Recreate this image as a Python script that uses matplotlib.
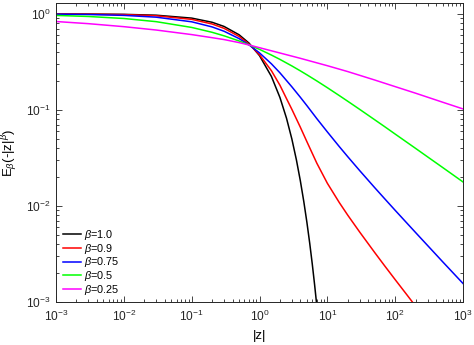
import numpy as np
import matplotlib
matplotlib.use('Agg')
import matplotlib.pyplot as plt
from matplotlib.ticker import FixedLocator, NullFormatter

plt.rcParams['font.family'] = ['Liberation Sans', 'DejaVu Sans']
plt.rcParams['mathtext.fontset'] = 'custom'
plt.rcParams['mathtext.rm'] = 'Liberation Sans'
plt.rcParams['mathtext.it'] = 'Liberation Sans:italic'
plt.rcParams['mathtext.bf'] = 'Liberation Sans:bold'

# values, E_beta(-|z|^beta) vs |z|
z_b10 = [0.001, 0.003, 0.01, 0.03, 0.1, 0.2, 0.3, 0.5, 0.7, 1, 1.5, 2, 2.5, 3,
         3.5, 4, 4.5, 5, 5.5, 6, 6.5, 7]
e_b10 = [0.999, 0.997, 0.990, 0.970, 0.905, 0.819, 0.741, 0.607, 0.497, 0.368,
         0.223, 0.135, 0.0821, 0.0498, 0.0302, 0.0183, 0.0111, 0.00674,
         0.00409, 0.00248, 0.0015, 0.00091]

z_b09 = [0.001, 0.003, 0.01, 0.03, 0.1, 0.2, 0.3, 0.5, 0.7, 1, 1.5, 2, 2.5, 3,
         4, 5, 7, 10, 15, 20, 30, 50, 70, 100, 150, 200]
e_b09 = [0.998, 0.994, 0.984, 0.957, 0.878, 0.786, 0.708, 0.583, 0.486, 0.376,
         0.256, 0.181, 0.1313, 0.1015, 0.0661, 0.0467, 0.0279, 0.01725, 0.01086,
         0.00802, 0.00535, 0.00327, 0.00238, 0.00171, 0.00118, 0.000905]

z_b075 = [0.001, 0.003, 0.01, 0.03, 0.1, 0.2, 0.3, 0.5, 0.7, 1, 1.5, 2, 3, 4, 5,
          7, 10, 15, 20, 30, 50, 70, 100, 200, 500, 1000]
e_b075 = [0.9939, 0.9862, 0.9663, 0.9253, 0.8283, 0.7326, 0.6603, 0.5536,
          0.4766, 0.3931, 0.3021, 0.2437, 0.1742, 0.1356, 0.1109, 0.0812,
          0.0591, 0.04156, 0.0326, 0.02335, 0.0155, 0.0119, 0.00901, 0.00529,
          0.00263, 0.00156]

z_b05 = [0.001, 0.003, 0.01, 0.03, 0.1, 0.2, 0.3, 0.5, 0.7, 1, 1.5, 2, 3, 4, 5,
         7, 10, 15, 20, 30, 50, 70, 100, 200, 300, 500, 1000]
e_b05 = [0.9653, 0.9411, 0.8965, 0.8310, 0.7236, 0.6438, 0.5920, 0.5232,
         0.4767, 0.4276, 0.3730, 0.3362, 0.2874, 0.2554, 0.2323, 0.2005,
         0.1706, 0.1412, 0.1232, 0.1014, 0.0790, 0.0670, 0.0561, 0.0398,
         0.0325, 0.0252, 0.0178]

z_b025 = [0.001, 0.003, 0.01, 0.03, 0.1, 0.2, 0.3, 0.5, 0.7, 1, 2, 4, 10, 20,
          50, 100, 200, 500, 1000]
e_b025 = [0.834, 0.792, 0.737, 0.680, 0.6095, 0.566, 0.541, 0.503, 0.475,
          0.445, 0.392, 0.345, 0.289, 0.251, 0.205, 0.175, 0.1495, 0.1205,
          0.1025]

x_major = [1e-3, 1e-2, 1e-1, 1e0, 1e1, 1e2, 1e3]
y_major = [1e-3, 1e-2, 1e-1, 1e0]

series = [(z_b10, e_b10, '#000000', r'$\beta$=1.0'),
          (z_b09, e_b09, '#ff0000', r'$\beta$=0.9'),
          (z_b075, e_b075, '#0000ff', r'$\beta$=0.75'),
          (z_b05, e_b05, '#00ff00', r'$\beta$=0.5'),
          (z_b025, e_b025, '#ff00ff', r'$\beta$=0.25')]

fig = plt.figure(figsize=(4.74, 3.45), dpi=100)
ax = fig.add_axes([56/474, 43/345, 407/474, 299/345])

for zz, ee, col, lab in series:
    ax.loglog(zz, ee, color=col, lw=1.1, label=lab)

ax.set_xlim(1e-3, 1e3)
ax.set_ylim(1e-3, 1.3)

# minor ticks 2..9 within each decade
x_minor = [m * d for d in x_major[:-1] for m in range(2, 10)]
y_minor = [m * d for d in y_major for m in range(2, 10) if m * d <= 1.3]
ax.set_xticks(x_major)
ax.set_yticks(y_major)
ax.xaxis.set_minor_locator(FixedLocator(x_minor))
ax.yaxis.set_minor_locator(FixedLocator(y_minor))
ax.xaxis.set_minor_formatter(NullFormatter())
ax.yaxis.set_minor_formatter(NullFormatter())

ax.tick_params(which='both', direction='in', top=True, right=True,
               labelsize=8.6, colors='#262626', width=0.6)
ax.tick_params(which='major', length=4)
ax.tick_params(axis='x', which='major', pad=5)
ax.tick_params(axis='y', which='major', pad=4)
ax.tick_params(which='minor', length=2.2)
for sp in ax.spines.values():
    sp.set_color('#262626')
    sp.set_linewidth(0.7)

ax.set_xlabel('|z|', fontsize=9.5)
ax.xaxis.set_label_coords(0.5, -0.093)
ax.set_ylabel(r'E$_\beta$(-|z|$^\beta$)', fontsize=9.5)
ax.yaxis.set_label_coords(-0.088, 0.5)

ax.legend(loc='lower left', bbox_to_anchor=(0.012, 0.01), frameon=False,
          fontsize=7.8, handlelength=1.65, handletextpad=0.3, labelspacing=-0.03,
          borderpad=0.2, borderaxespad=0.0)

fig.savefig('out.png', dpi=100)
